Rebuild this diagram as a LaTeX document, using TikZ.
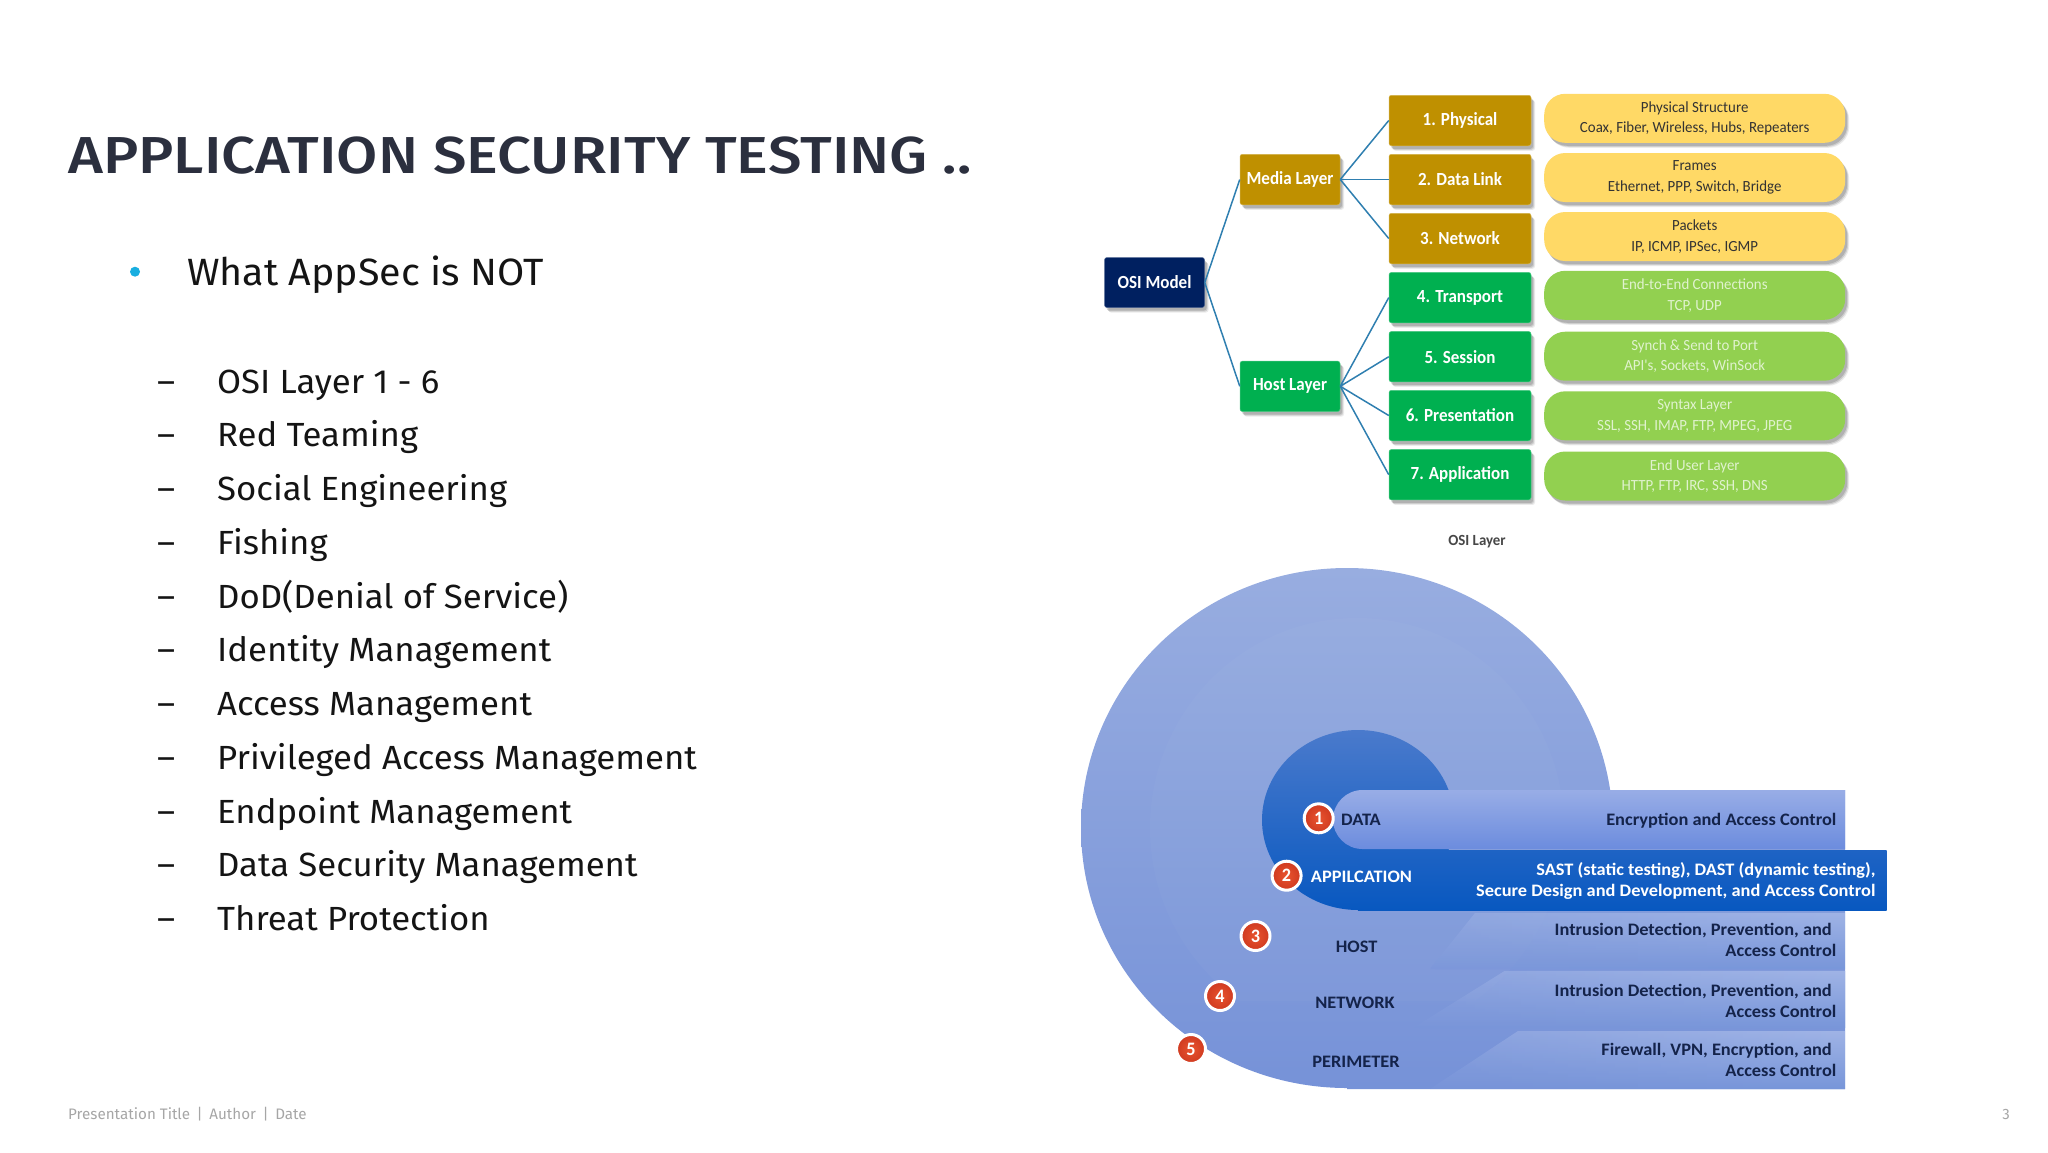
\documentclass[tikz,border=0pt]{standalone}
\usepackage{fontspec}
\setmainfont{Fira Sans}
\newfontfamily\titlefont{Fira Sans}[UprightFont=* Medium,FakeStretch=1.15]
\newfontfamily\bodyfont{Fira Sans}[FakeStretch=1.037]
\newfontfamily\carlbox{Carlito}[FakeStretch=.92]
\newfontfamily\carlpill{Carlito}[FakeStretch=.96]
\newfontfamily\carlband{Carlito}[FakeStretch=1.05]
\usetikzlibrary{shadows,fadings}
\definecolor{navybox}{HTML}{002060}
\definecolor{brownbox}{HTML}{BF9000}
\definecolor{greenbox}{HTML}{00B050}
\definecolor{yellowpill}{HTML}{FFD966}
\definecolor{greenpill}{HTML}{92D050}
\definecolor{link}{HTML}{2F7FB0}
\definecolor{titleink}{HTML}{2B2F3E}
\definecolor{darkink}{HTML}{14234A}
\definecolor{dotblue}{HTML}{19AEE0}
\definecolor{badgein}{HTML}{E8532F}
\definecolor{badgeout}{HTML}{CF3A20}
\tikzfading[name=bandin,left color=transparent!100,middle color=transparent!0,right color=transparent!0]
\tikzset{
  softshadow/.style={general shadow={shadow xshift=4pt,shadow yshift=-5pt,fill=black,opacity=.08},
                     general shadow={shadow xshift=3pt,shadow yshift=-4pt,fill=black,opacity=.12},
                     general shadow={shadow xshift=2pt,shadow yshift=-3pt,fill=black,opacity=.14}},
  boxbase/.style={softshadow,rounded corners=2.5pt,inner sep=0pt,align=center,text=white,
     font=\carlbox\bfseries\fontsize{18.5}{22}\selectfont},
  navynode/.style={boxbase,fill=navybox,draw=navybox!70!white,line width=.5pt,minimum width=100pt,minimum height=50pt},
  brownnode/.style={boxbase,fill=brownbox,draw=brownbox!70!white,line width=.5pt,minimum width=100pt,minimum height=50.5pt},
  greennode/.style={boxbase,fill=greenbox,draw=greenbox!70!white,line width=.5pt,minimum width=100pt,minimum height=50.5pt},
  layerwide/.style={minimum width=142pt},
  pillbase/.style={softshadow,rounded corners=21pt,minimum width=301pt,minimum height=49pt,inner sep=0pt,align=center,
     font=\carlpill\fontsize{15.5}{20.7}\selectfont,execute at begin node={\rule{0pt}{15pt}}},
  yellownode/.style={pillbase,fill=yellowpill,text=black!80},
  limenode/.style={pillbase,fill=greenpill,text=white!72!greenpill},
  wire/.style={draw=link,line width=1.5pt},
  bandtext/.style={anchor=east,inner sep=0pt,align=right,text=darkink,font=\carlband\bfseries\fontsize{17.5}{21}\selectfont},
  ringlabel/.style={inner sep=0pt,text=darkink,font=\carlband\bfseries\fontsize{17.5}{20}\selectfont},
  badge/.style={circle,minimum size=29pt,inner sep=0pt,text=white,inner color=badgein,outer color=badgeout,
     draw=white,line width=3pt,general shadow={fill=black,opacity=.22,scale=1.08},
     font=\carlpill\bfseries\fontsize{19}{20}\selectfont},
  bodytext/.style={anchor=base west,inner sep=0pt,text=black!92,font=\bodyfont\fontsize{33.5}{40}\selectfont},
}
\begin{document}
\begin{tikzpicture}[x=1pt,y=-1pt]
\useasboundingbox (0,0) rectangle (2048,1152);
% Left column
\node[anchor=base west,inner sep=0pt,text=titleink,font=\titlefont\fontsize{52}{60}\selectfont] (title) at (68,173.5) {APPLICATION SECURITY TESTING ..};
\fill[dotblue] (135,271.7) circle (5);
\node[bodytext,font=\bodyfont\fontsize{38}{44}\selectfont] (what) at (187,285) {What AppSec is NOT};
\foreach \i/\t in {0/OSI Layer 1 - 6,1/Red Teaming,2/Social Engineering,3/Fishing,4/DoD(Denial of Service),5/Identity Management,6/Access Management,7/Privileged Access Management,8/Endpoint Management,9/Data Security Management,10/Threat Protection}{
  \node[bodytext] (dash\i) at (157,393+53.75*\i) {–};
  \node[bodytext] (item\i) at (217,393+53.75*\i) {\t};
}
\node[anchor=base west,inner sep=0pt,text=black!35,font=\fontsize{15.2}{18}\selectfont] (foot) at (68,1119) {Presentation Title \,|\, Author \,|\, Date};
\node[anchor=base,inner sep=0pt,text=black!35,font=\fontsize{15}{18}\selectfont] (page) at (2006,1119) {3};
% OSI tree
\node[navynode] (osi) at (1154.5,282.5) {OSI Model};
\node[brownnode] (media) at (1290,179.5) {Media Layer};
\node[greennode] (host) at (1290,386.3) {Host Layer};
\node[brownnode,layerwide] (l1) at (1460,120.5) {1. Physical};
\node[brownnode,layerwide] (l2) at (1460,179.5) {2. Data Link};
\node[brownnode,layerwide] (l3) at (1460,238.5) {3. Network};
\node[greennode,layerwide] (l4) at (1460,297.6) {4. Transport};
\node[greennode,layerwide] (l5) at (1460,356.7) {5. Session};
\node[greennode,layerwide] (l6) at (1460,415.5) {6. Presentation};
\node[greennode,layerwide] (l7) at (1460,474.7) {7. Application};
\node[yellownode] (p1) at (1694.7,118.3) {Physical Structure\\Coax, Fiber, Wireless, Hubs, Repeaters};
\node[yellownode] (p2) at (1694.7,177.5) {Frames\\Ethernet, PPP, Switch, Bridge};
\node[yellownode] (p3) at (1694.7,236.5) {Packets\\IP, ICMP, IPSec, IGMP};
\node[limenode] (p4) at (1694.7,295.3) {End-to-End Connections\\TCP, UDP};
\node[limenode] (p5) at (1694.7,356.2) {Synch \& Send to Port\\API's, Sockets, WinSock};
\node[limenode] (p6) at (1694.7,415.8) {Syntax Layer\\SSL, SSH, IMAP, FTP, MPEG, JPEG};
\node[limenode] (p7) at (1694.7,476) {End User Layer\\HTTP, FTP, IRC, SSH, DNS};
\foreach \a/\b in {osi/media,osi/host,media/l1,media/l2,media/l3,host/l4,host/l5,host/l6,host/l7}
  \draw[wire] (\a.east) -- (\b.west);
\node[inner sep=0pt,text=black!72,font=\carlpill\bfseries\fontsize{15.5}{18}\selectfont] (cap) at (1477,541.3) {OSI Layer};
% Defence-in-depth rings
\shade[top color={rgb,255:red,152;green,173;blue,224},bottom color={rgb,255:red,118;green,146;blue,216}]
  (1347,1088) arc[start angle=90,end angle=351.6,x radius=266,y radius=260] -- (1845,790) -- (1845,1089) -- (1347,1089) -- cycle;
\begin{scope}
  \clip (1080,560) rectangle (1700,1000);
  \fill[white,opacity=.025] (1357,828) ellipse[x radius=207,y radius=210];
\end{scope}
\foreach \xa/\xb/\ya/\yb in {1475/1430/913/969,1504.5/1413/971/1028,1518/1430/1031/1089}{
  \shade[opacity=.45,top color={rgb,255:red,160;green,180;blue,230},bottom color={rgb,255:red,122;green,150;blue,218}]
    (\xa,\ya) -- (1845,\ya) -- (1845,\yb) -- (\xb,\yb) -- cycle;
  \shade[path fading=bandin,fit fading=true,top color={rgb,255:red,160;green,180;blue,230},bottom color={rgb,255:red,120;green,150;blue,218}]
    (\xa,\ya) -- (1845,\ya) -- (1845,\yb) -- (\xb,\yb) -- cycle;
}
\shade[top color={rgb,255:red,74;green,122;blue,204},bottom color={rgb,255:red,8;green,88;blue,192}]
  (1358,820) ellipse[x radius=96,y radius=90];
\shade[top color={rgb,255:red,30;green,99;blue,196},bottom color={rgb,255:red,8;green,88;blue,192}]
  (1358,850) -- (1886.5,850) -- (1886.5,910) -- (1358,910) -- cycle;
\shade[top color={rgb,255:red,152;green,173;blue,230},bottom color={rgb,255:red,108;green,140;blue,222}]
  (1845,790) -- (1362.5,790) arc[start angle=270,end angle=90,radius=29.5] -- (1845,849) -- cycle;
\node[badge] (b1) at (1318.7,818.3) {1};
\node[badge] (b2) at (1286.6,875.7) {2};
\node[badge] (b3) at (1255.5,936) {3};
\node[badge] (b4) at (1220,996) {4};
\node[badge] (b5) at (1191,1049) {5};
\node[ringlabel] (r1) at (1361,820) {DATA};
\node[ringlabel,text=white] (r2) at (1361.5,876.7) {APPILCATION};
\node[ringlabel] (r3) at (1356.7,947) {HOST};
\node[ringlabel] (r4) at (1355,1002.7) {NETWORK};
\node[ringlabel] (r5) at (1356,1061.7) {PERIMETER};
\node[bandtext] (t1) at (1836.6,821) {Encryption and Access Control};
\node[bandtext,text=white] (t2) at (1875.7,880.6) {SAST (static testing), DAST (dynamic testing),\\Secure Design and Development, and Access Control};
\node[bandtext] (t3) at (1836.6,940.3) {Intrusion Detection, Prevention, and\hspace*{4.6pt}\\Access Control};
\node[bandtext] (t4) at (1836.6,1000.5) {Intrusion Detection, Prevention, and\hspace*{4.6pt}\\Access Control};
\node[bandtext] (t5) at (1836.6,1060.3) {Firewall, VPN, Encryption, and\hspace*{4.6pt}\\Access Control};
\end{tikzpicture}
\end{document}
